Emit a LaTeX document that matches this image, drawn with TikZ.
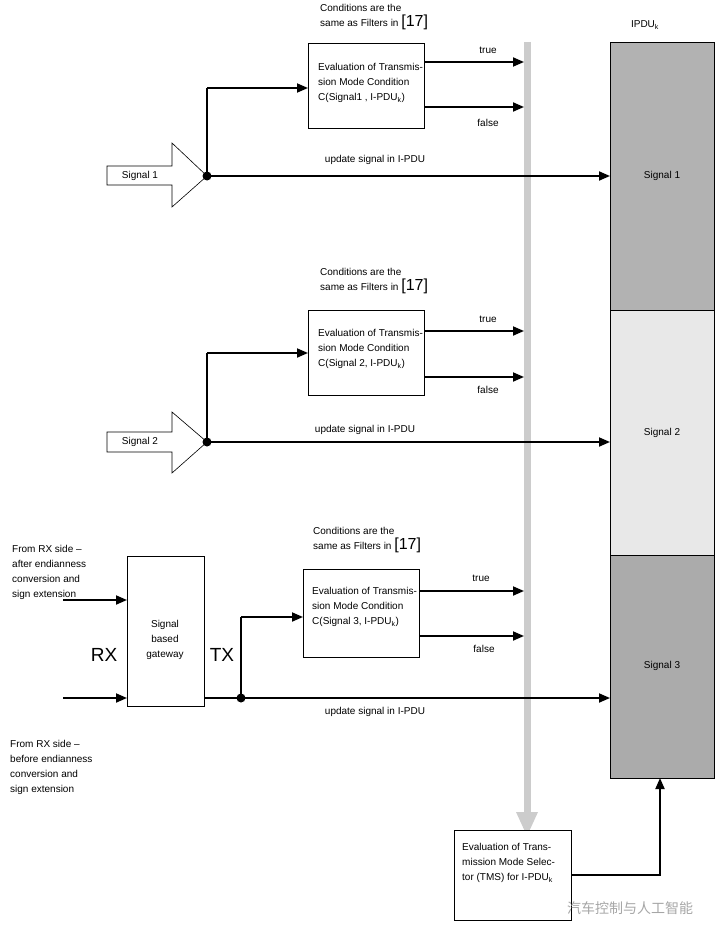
\documentclass[tikz,border=0pt]{standalone}
\usepackage{fontspec}
\setmainfont{Liberation Sans}
\newfontfamily\cjk{Noto Sans CJK SC}
\usetikzlibrary{arrows.meta}
\begin{document}
\begin{tikzpicture}[x=1pt,y=-1pt,
  every node/.style={font=\fontsize{10}{15}\selectfont},
  box/.style={draw,line width=0.8pt,fill=white,inner sep=0pt},
  flow/.style={line width=1.8pt,-{Triangle[length=11pt,width=9pt]}},
  plain/.style={line width=1.8pt},
  dot/.style={circle,fill=black,inner sep=0pt,minimum size=9pt},
  txt/.style={align=left,anchor=north west,inner sep=0pt},
  sarrow/.style={draw,line width=0.6pt,fill=white}]
\useasboundingbox (0,0) rectangle (720,939);
% gray bus
\draw[line width=7pt,draw=black!20] (527,42) -- (527,815);
\fill[black!20] (516,812) -- (538,812) -- (527,836) -- cycle;
% IPDU
\node at (645,25) {IPDU\textsubscript{\scriptsize k}};
\filldraw[fill=black!30,line width=0.8pt] (610,42) rectangle (714,310);
\filldraw[fill=black!9,line width=0.8pt] (610,310) rectangle (714,555);
\filldraw[fill=black!33,line width=0.8pt] (610,555) rectangle (714,778);
\node (p1) at (662,176) {Signal 1};
\node (p2) at (662,433) {Signal 2};
\node (p3) at (662,666) {Signal 3};
\coordinate (i1) at (610,176);
\coordinate (i2) at (610,442);
\coordinate (i3) at (610,698);
% block 1
\node[txt] (c1) at (320,4) {Conditions are the\\same as Filters in \fontsize{16}{16}\selectfont[17]};
\node[box,minimum width=116pt,minimum height=85pt,anchor=north west] (b1) at (308,43) {};
\node[txt] at (318,63) {Evaluation of Transmis-\\sion Mode Condition\\C(Signal1 , I-PDU\textsubscript{\scriptsize k})};
\coordinate (t1) at (524,62); \coordinate (f1) at (524,107);
\draw[flow] (424,62) -- (t1); \draw[flow] (424,107) -- (f1);
\node at (488,50) {true}; \node at (488,123) {false};
\draw[sarrow] (107,166) -- (172,166) -- (172,143) -- (207,176) -- (172,207) -- (172,185) -- (107,185) -- cycle;
\node at (140,176) {Signal 1};
\node[dot] (d1) at (207,176) {};
\draw[plain] (d1.center) -- (207,88) coordinate (k1);
\draw[flow] (k1) -- (b1.west|-k1);
\draw[flow] (d1.center) -- (i1);
\node at (375,160) {update signal in I-PDU};
% block 2
\node[txt] at (320,268) {Conditions are the\\same as Filters in \fontsize{16}{16}\selectfont[17]};
\node[box,minimum width=116pt,minimum height=85pt,anchor=north west] (b2) at (308,310) {};
\node[txt] at (318,329) {Evaluation of Transmis-\\sion Mode Condition\\C(Signal 2, I-PDU\textsubscript{\scriptsize k})};
\draw[flow] (424,331) -- (524,331); \draw[flow] (424,377) -- (524,377);
\node at (488,319) {true}; \node at (488,390) {false};
\draw[sarrow] (107,432) -- (172,432) -- (172,412) -- (207,442) -- (172,473) -- (172,452) -- (107,452) -- cycle;
\node at (140,442) {Signal 2};
\node[dot] (d2) at (207,442) {};
\draw[plain] (d2.center) -- (207,353) coordinate (k2);
\draw[flow] (k2) -- (b2.west|-k2);
\draw[flow] (d2.center) -- (i2);
\node at (365,430) {update signal in I-PDU};
% block 3
\node[txt] at (313,527) {Conditions are the\\same as Filters in \fontsize{16}{16}\selectfont[17]};
\node[box,minimum width=116pt,minimum height=88pt,anchor=north west] (b3) at (303,569) {};
\node[txt] at (312,587) {Evaluation of Transmis-\\sion Mode Condition\\C(Signal 3, I-PDU\textsubscript{\scriptsize k})};
\draw[flow] (419,591) -- (524,591); \draw[flow] (419,636) -- (524,636);
\node at (481,578) {true}; \node at (484,649) {false};
\node[box,minimum width=77pt,minimum height=150pt,anchor=north west] (g) at (127,556) {};
\node[align=center] at (165,640) {Signal\\based\\gateway};
\node[font=\fontsize{19}{19}\selectfont] at (104,655) {RX};
\node[font=\fontsize{19}{19}\selectfont] at (222,655) {TX};
\coordinate (r1) at (63,600); \coordinate (r2) at (63,698);
\draw[flow] (r1) -- (g.west|-r1);
\draw[flow] (r2) -- (g.west|-r2);
\node[dot] (d3) at (241,698) {};
\draw[plain] (g.east|-d3) -- (d3.center);
\draw[plain] (d3.center) -- (241,617) coordinate (k3);
\draw[flow] (k3) -- (b3.west|-k3);
\draw[flow] (d3.center) -- (i3);
\node at (375,712) {update signal in I-PDU};
\node[txt] at (12,545) {From RX side –\\after endianness\\conversion and\\sign extension};
\node[txt] at (10,740) {From RX side –\\before endianness\\conversion and\\sign extension};
% TMS
\node[box,minimum width=117pt,minimum height=90pt,anchor=north west] (tms) at (454,830) {};
\node[txt] at (462,843) {Evaluation of Trans-\\mission Mode Selec-\\tor (TMS) for I-PDU\textsubscript{\scriptsize k}};
\draw[flow] (tms.east|-0,875) -- (660,875) -- (660,778);
\node[font=\cjk\fontsize{14}{14}\selectfont,text=black!35] at (630,908) {汽车控制与人工智能};
\end{tikzpicture}
\end{document}
